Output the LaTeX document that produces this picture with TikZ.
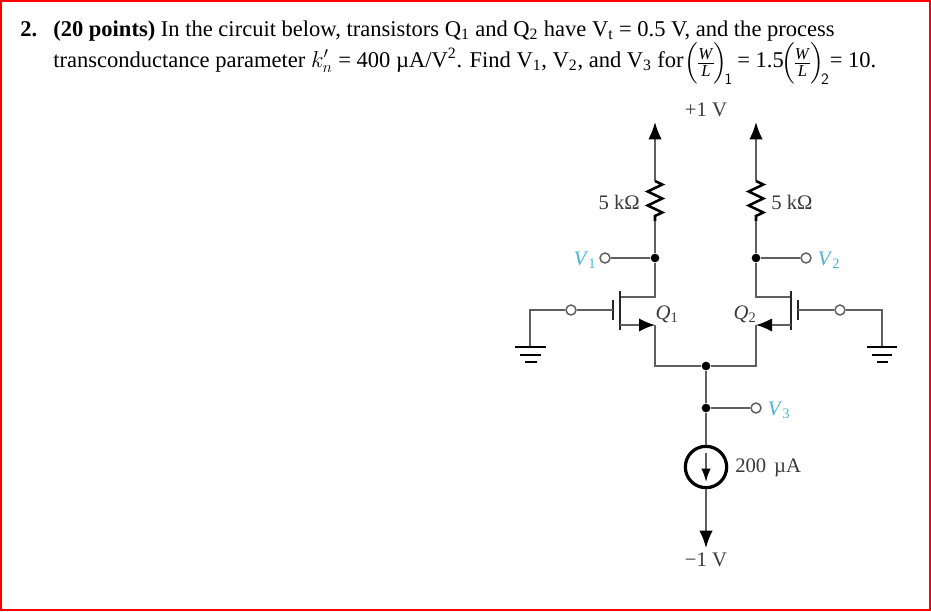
\documentclass[tikz,border=0pt]{standalone}
\usepackage{amsmath}
\usepackage{fontspec}
\setmainfont{Liberation Serif}
\usetikzlibrary{arrows.meta,decorations.pathmorphing}
\definecolor{wire}{HTML}{5F5F5F}
\definecolor{labelblue}{HTML}{45B4D8}
\definecolor{labelgray}{HTML}{3A3A3A}
\tikzset{
  wire/.style={draw=wire,line width=1.3pt},
  plate/.style={draw=black!85,line width=2pt},
  res/.style={draw=black,line width=1.9pt,decorate,
    decoration={zigzag,segment length=10.5pt,amplitude=5.5pt}},
  rail/.style={wire,-{Latex[length=13pt,width=10pt,black]}},
  srcarrow/.style={wire,-{Latex[length=10pt,width=7pt,black]}},
  dot/.style={circle,fill=black,inner sep=0pt,minimum size=6.5pt},
  term/.style={circle,draw=wire,fill=white,line width=1.1pt,inner sep=0pt,minimum size=7.5pt},
  lbl/.style={text=labelgray,font=\fontsize{15.5}{18}\selectfont,inner sep=0pt},
  vlbl/.style={text=labelblue,font=\fontsize{15.5}{18}\selectfont,inner sep=0pt},
  gnd/.style={draw=black,line width=2.1pt},
  txt/.style={anchor=base west,inner sep=0pt,font=\fontsize{16.9}{20}\selectfont}
}
\newcommand{\wlpart}[1]{\text{\fontsize{12.5}{13}\selectfont\textit{#1}}}
\newcommand{\wl}{\Bigl(\nulldelimiterspace=0pt\genfrac{}{}{.5pt}{1}{\wlpart{W}}{\wlpart{L}}\Bigr)}
\begin{document}
\begin{tikzpicture}[x=.75pt,y=-.75pt]
\useasboundingbox (0,0) rectangle (931,611);
\draw[red,line width=1.6pt] (1,1) rectangle (930,610);
\node[txt] (num) at (20,36) {\textbf{2.}};
\node[txt] (line1) at (53,36) {\textbf{(20 points)} In the circuit below, transistors Q\textsubscript{1} and Q\textsubscript{2} have V\textsubscript{t} = 0.5 V, and the process};
\node[txt] (line2) at (53,67) {transconductance parameter $k'_n$ = 400 µA/V\textsuperscript{2}. Find V\textsubscript{1}, V\textsubscript{2}, and V\textsubscript{3} for\hspace{-3.5pt} \raisebox{-1.5pt}{$\wl_{\!\mathsf{1}}$}\hspace{-1pt} = 1.5\hspace{-2pt}\raisebox{-1.5pt}{$\wl_{\!\mathsf{2}}$}\hspace{-4pt} = 10.};
\node[lbl] (vdd) at (706,110) {+1 V};
\node[lbl] (vss) at (706,560) {−1 V};
\node[lbl,anchor=east] (r1lbl) at (640,202) {5 kΩ};
\node[lbl,anchor=west] (r2lbl) at (771,202) {5 kΩ};
\node[vlbl] (v1lbl) at (585,260) {\textit{V}\textsubscript{1}};
\node[vlbl] (v2lbl) at (829,260) {\textit{V}\textsubscript{2}};
\node[vlbl] (v3lbl) at (779,410) {\textit{V}\textsubscript{3}};
\node[lbl] (q1lbl) at (667,314) {\textit{Q}\textsubscript{1}};
\node[lbl] (q2lbl) at (745,314) {\textit{Q}\textsubscript{2}};
\node[lbl,anchor=west] (ilbl) at (735,468) {200\hspace{2pt} µA};
\coordinate (top1) at (655,122);
\coordinate (top2) at (756,122);
\coordinate (r1a) at (655,181);
\coordinate (r1b) at (655,221);
\coordinate (r2a) at (756,181);
\coordinate (r2b) at (756,221);
\node[dot] (n1) at (655,258) {};
\node[dot] (n2) at (756,258) {};
\node[term] (t1) at (605,258) {};
\node[term] (t2) at (806,258) {};
\coordinate (d1) at (655,297);
\coordinate (d2) at (756,297);
\coordinate (ch1a) at (620,291);
\coordinate (ch1b) at (620,330);
\coordinate (ch2a) at (791,291);
\coordinate (ch2b) at (791,330);
\coordinate (s1) at (655,325);
\coordinate (s2) at (756,325);
\coordinate (g1a) at (613,300);
\coordinate (g1b) at (613,320);
\coordinate (g2a) at (798,300);
\coordinate (g2b) at (798,320);
\node[term] (tg1) at (571,310) {};
\node[term] (tg2) at (840,310) {};
\coordinate (gnd1) at (530,347);
\coordinate (gnd2) at (882,347);
\node[dot] (tail) at (706,366) {};
\node[dot] (n3) at (706,408) {};
\node[term] (t3) at (756,408) {};
\node[circle,draw=black,line width=2.4pt,fill=white,minimum size=31pt,inner sep=0pt] (src) at (706,467) {};
\coordinate (bot) at (706,548);
\draw[rail] (r1a) -- (top1);
\draw[rail] (r2a) -- (top2);
\draw[res] (r1a) -- (r1b);
\draw[res] (r2a) -- (r2b);
\draw[wire] (r1b) -- (n1) -- (d1) -- (ch1a |- d1);
\draw[wire] (r2b) -- (n2) -- (d2) -- (ch2a |- d2);
\draw[wire] (n1) -- (t1);
\draw[wire] (n2) -- (t2);
\draw[plate] (ch1a) -- (ch1b);
\draw[plate] (ch2a) -- (ch2b);
\draw[plate] (g1a) -- (g1b);
\draw[plate] (g2a) -- (g2b);
\draw[wire] (g1a |- tg1) -- (tg1);
\draw[wire] (g2a |- tg2) -- (tg2);
\draw[wire] (tg1) -- (gnd1 |- tg1) -- (gnd1);
\draw[wire] (tg2) -- (gnd2 |- tg2) -- (gnd2);
\draw[gnd] (515,347) -- (546,347) (520,355) -- (541,355) (525,362) -- (537,362);
\draw[gnd] (867,347) -- (897,347) (872,355) -- (892,355) (877,362) -- (888,362);
\draw[srcarrow,-{Latex[length=12pt,width=10pt,black]}] (ch1a |- s1) -- (s1);
\draw[srcarrow,-{Latex[length=12pt,width=10pt,black]}] (ch2a |- s2) -- (s2);
\draw[wire] (s1) -- (s1 |- tail) -- (tail);
\draw[wire] (s2) -- (s2 |- tail) -- (tail);
\draw[wire] (tail) -- (n3) -- (src);
\draw[wire] (n3) -- (t3);
\draw[rail] (src) -- (bot);
\draw[srcarrow] (706,453) -- (706,482);
\end{tikzpicture}
\end{document}
